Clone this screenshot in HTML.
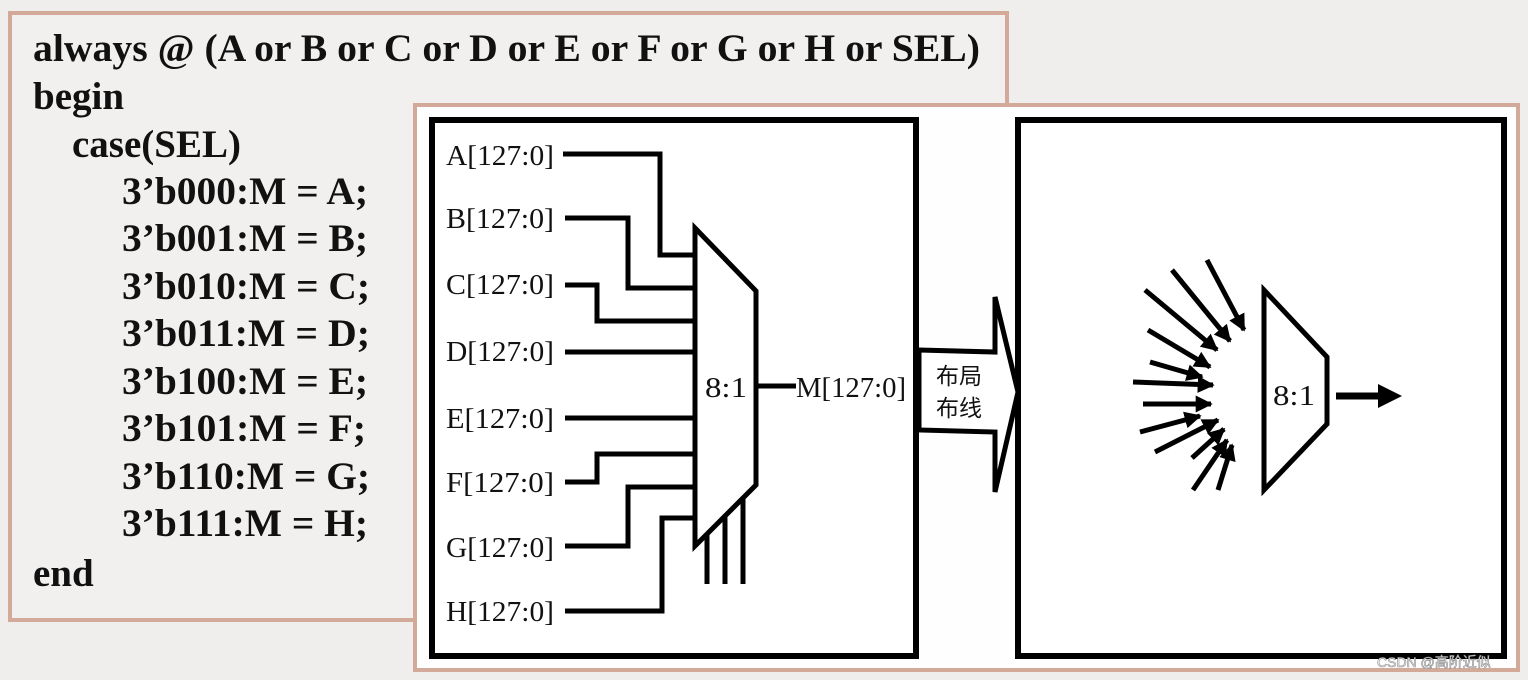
<!DOCTYPE html>
<html><head><meta charset="utf-8"><style>
html,body{margin:0;padding:0;background:#efeeec;}
svg{display:block}
.code{font-family:"Liberation Serif",serif;font-weight:bold;font-size:39px;fill:#111}
.lbl{font-family:"Liberation Serif","Noto Serif CJK SC",serif;font-size:28px;fill:#111}
</style></head><body>
<svg width="1528" height="680" viewBox="0 0 1528 680" xmlns="http://www.w3.org/2000/svg">
<rect x="0" y="0" width="1528" height="680" fill="#efeeec"/>
<rect x="10" y="13" width="997" height="607" fill="#f1f0ee" stroke="#d3a999" stroke-width="4"/>
<g class="code">
<text x="33" y="61" textLength="947" lengthAdjust="spacingAndGlyphs">always @ (A or B or C or D or E or F or G or H or SEL)</text>
<text x="33" y="109">begin</text>
<text x="72" y="157">case(SEL)</text>
<text x="122" y="204" textLength="246" lengthAdjust="spacingAndGlyphs">3’b000:M = A;</text>
<text x="122" y="251" textLength="246" lengthAdjust="spacingAndGlyphs">3’b001:M = B;</text>
<text x="122" y="299" textLength="248" lengthAdjust="spacingAndGlyphs">3’b010:M = C;</text>
<text x="122" y="346" textLength="248" lengthAdjust="spacingAndGlyphs">3’b011:M = D;</text>
<text x="122" y="394" textLength="246" lengthAdjust="spacingAndGlyphs">3’b100:M = E;</text>
<text x="122" y="441" textLength="244" lengthAdjust="spacingAndGlyphs">3’b101:M = F;</text>
<text x="122" y="489" textLength="248" lengthAdjust="spacingAndGlyphs">3’b110:M = G;</text>
<text x="122" y="536" textLength="246" lengthAdjust="spacingAndGlyphs">3’b111:M = H;</text>
<text x="33" y="586">end</text>
</g>
<rect x="415" y="105" width="1103" height="565" fill="#fefefe" stroke="#d3a999" stroke-width="4"/>
<rect x="432" y="120" width="484" height="536" fill="#fff" stroke="#000" stroke-width="6"/>
<rect x="1018" y="120" width="486" height="536" fill="#fff" stroke="#000" stroke-width="6"/>
<g class="lbl">
<text x="446" y="165" textLength="108" lengthAdjust="spacingAndGlyphs">A[127:0]</text>
<text x="446" y="228" textLength="108" lengthAdjust="spacingAndGlyphs">B[127:0]</text>
<text x="446" y="294" textLength="108" lengthAdjust="spacingAndGlyphs">C[127:0]</text>
<text x="446" y="361" textLength="108" lengthAdjust="spacingAndGlyphs">D[127:0]</text>
<text x="446" y="428" textLength="108" lengthAdjust="spacingAndGlyphs">E[127:0]</text>
<text x="446" y="492" textLength="108" lengthAdjust="spacingAndGlyphs">F[127:0]</text>
<text x="446" y="557" textLength="108" lengthAdjust="spacingAndGlyphs">G[127:0]</text>
<text x="446" y="621" textLength="108" lengthAdjust="spacingAndGlyphs">H[127:0]</text>
<text x="705" y="397" textLength="42" lengthAdjust="spacingAndGlyphs">8:1</text>
<text x="796" y="397" textLength="110" lengthAdjust="spacingAndGlyphs">M[127:0]</text>
<text x="1273" y="405" textLength="42" lengthAdjust="spacingAndGlyphs">8:1</text>
</g>
<g fill="none" stroke="#000" stroke-width="5" stroke-linejoin="miter">
<polyline points="563,154 660,154 660,255 695,255"/>
<polyline points="565,218 628,218 628,288 695,288"/>
<polyline points="565,285 597,285 597,321 695,321"/>
<polyline points="565,352 695,352"/>
<polyline points="565,418 695,418"/>
<polyline points="565,482 597,482 597,454 695,454"/>
<polyline points="565,546 628,546 628,487 695,487"/>
<polyline points="565,611 662,611 662,518 695,518"/>
<polygon points="695,228 756,291 756,485 695,546"/>
<line x1="757" y1="386" x2="796" y2="386"/>
<line x1="707" y1="534" x2="707" y2="584"/>
<line x1="725" y1="516" x2="725" y2="584"/>
<line x1="743" y1="498" x2="743" y2="584"/>
<polygon points="1264,290 1327,357 1327,424 1264,490"/>
</g>
<polygon points="919,350 995,352 995,297 1018,392 995,492 995,432 919,430" fill="#fff" stroke="#000" stroke-width="5"/>
<text x="936" y="384" font-family="'Noto Sans CJK SC',sans-serif" font-size="23" fill="#111">布局</text>
<text x="936" y="416" font-family="'Noto Sans CJK SC',sans-serif" font-size="23" fill="#111">布线</text>
<defs><marker id="ah" viewBox="0 0 10 10" refX="9" refY="5" markerWidth="3.4" markerHeight="3.4" orient="auto"><path d="M0,0 L10,5 L0,10 z" fill="#000"/></marker></defs>
<g stroke="#000" stroke-width="5" marker-end="url(#ah)">
<line x1="1207" y1="260" x2="1244" y2="330"/>
<line x1="1172" y1="270" x2="1230" y2="341"/>
<line x1="1145" y1="290" x2="1217" y2="350"/>
<line x1="1148" y1="330" x2="1210" y2="367"/>
<line x1="1150" y1="362" x2="1202" y2="377"/>
<line x1="1133" y1="382" x2="1213" y2="385"/>
<line x1="1143" y1="404" x2="1211" y2="404"/>
<line x1="1140" y1="432" x2="1200" y2="416"/>
<line x1="1155" y1="452" x2="1218" y2="420"/>
<line x1="1192" y1="458" x2="1224" y2="429"/>
<line x1="1193" y1="490" x2="1227" y2="440"/>
<line x1="1218" y1="490" x2="1232" y2="445"/>
</g>
<line x1="1336" y1="396" x2="1382" y2="396" stroke="#000" stroke-width="7"/>
<polygon points="1378,384 1402,396 1378,408" fill="#000"/>
<text x="1377" y="667" font-family="'Liberation Sans','Noto Sans CJK SC',sans-serif" font-size="14" fill="#fff" stroke="#888" stroke-width="0.6">CSDN @高阶近似</text>
</svg>
</body></html>
